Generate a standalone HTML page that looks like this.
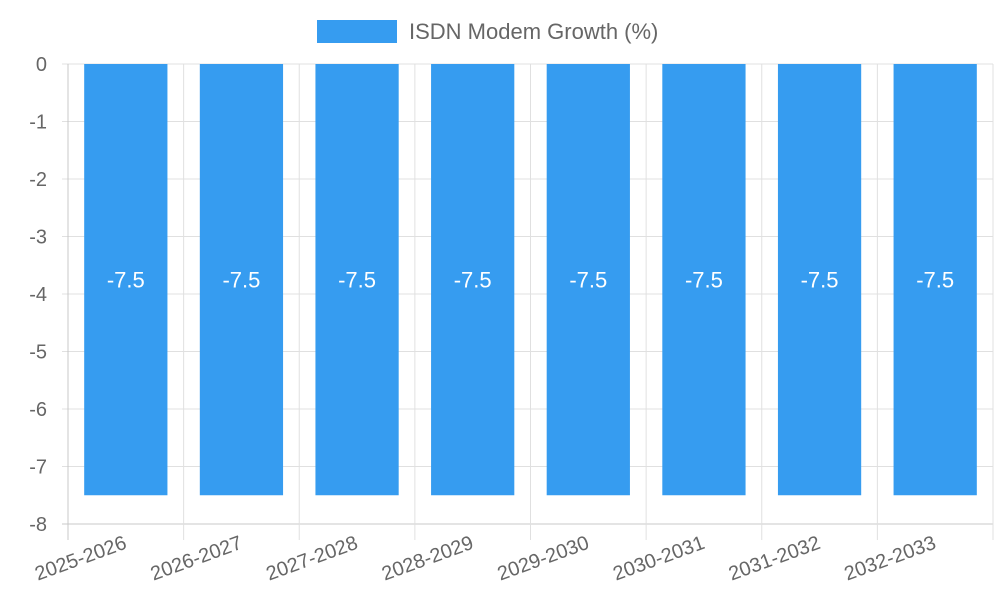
<!DOCTYPE html>
<html><head><meta charset="utf-8"><style>body{margin:0;background:#fff}svg{display:block;font-family:"Liberation Sans",sans-serif}</style></head>
<body>
<svg id="c" width="1000" height="600"></svg>
<script>
const categories=["2025-2026","2026-2027","2027-2028","2028-2029","2029-2030","2030-2031","2031-2032","2032-2033"];
const values=[-7.5,-7.5,-7.5,-7.5,-7.5,-7.5,-7.5,-7.5];
const yTicks=[0,-1,-2,-3,-4,-5,-6,-7,-8];
const NS="http://www.w3.org/2000/svg",svg=document.getElementById('c');
const L=68,R=993,T=64,B=524,yMin=-8,yMax=0;
const y=v=>T+(yMax-v)/(yMax-yMin)*(B-T);
const bw=(R-L)/categories.length;
const x=i=>L+bw*i;
function el(t,a,p){const e=document.createElementNS(NS,t);for(const k in a)e.setAttribute(k,a[k]);(p||svg).appendChild(e);return e;}
yTicks.forEach(v=>{
 const g=el('line',{x1:62,x2:R,y1:y(v),y2:y(v),stroke:v===yMin?'#c8c8c8':'#e0e0e0','stroke-width':1});
 
 
 const t=el('text',{x:47,y:y(v)+7,'text-anchor':'end','font-size':20,fill:'#666'});t.textContent=v;
 
 
});
for(let i=0;i<=categories.length;i++){
 const g=el('line',{x1:x(i),x2:x(i),y1:T,y2:540,stroke:i===0?'#c8c8c8':'#e0e0e0','stroke-width':1});
 
 
}
categories.forEach((c,i)=>{
 const cx=x(i)+bw/2,w=bw*0.72,v=values[i];
 const r=el('rect',{x:cx-w/2,y:y(Math.max(0,v)),width:w,height:Math.abs(y(v)-y(0)),fill:'#369cf0'});
 
 
 const t=el('text',{x:cx,y:(y(0)+y(v))/2+8,'text-anchor':'middle','font-size':22,fill:'#fff'});t.textContent=v;
 
 
 const lx=cx+2,ly=548;
 const xl=el('text',{x:lx,y:ly,'text-anchor':'end','font-size':20,fill:'#666',transform:`rotate(-20 ${lx} ${ly})`});xl.textContent=c;
 
 
});
const lg=el('g',{});


el('rect',{x:317,y:20,width:80,height:23,fill:'#369cf0'},lg);
const lt=el('text',{x:409,y:39,'font-size':22,fill:'#666'},lg);lt.textContent='ISDN Modem Growth (%)';


</script>
</body></html>
